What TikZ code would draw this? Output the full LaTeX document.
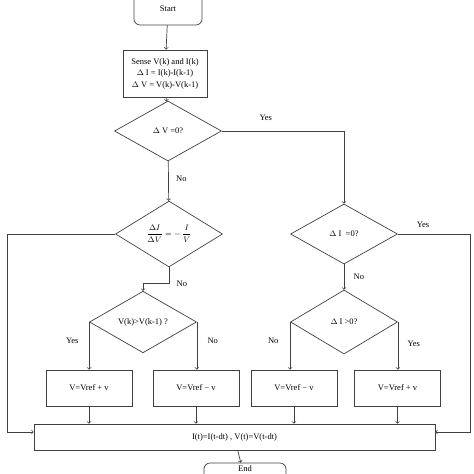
\documentclass[tikz,border=0pt]{standalone}
\usepackage{fontspec}
\setmainfont{Liberation Serif}
\usetikzlibrary{arrows,shapes.geometric,positioning,calc}

\begin{document}
\begin{tikzpicture}[x=1pt,y=-1pt,line width=0.7pt,
  every node/.style={font=\fontsize{8.5}{11.5}\selectfont},
  block/.style={draw=black!75,rectangle,minimum width=86pt,minimum height=36pt,inner sep=1pt,align=center},
  term/.style={block,rounded corners=6pt,minimum width=68pt,minimum height=32pt},
  decide/.style={draw=black!75,diamond,minimum width=107pt,minimum height=60pt,inner sep=1pt,align=center},
  link/.style={draw=black!75,->,>=to}]
  \useasboundingbox (0,0) rectangle (474,474);
  \clip (0,0) rectangle (474,474);

  % nodes
  \node[term] (start) at (168,9) {Start};
  \node[block,minimum width=84pt,minimum height=47pt] (sense) at (165,73.5)
    {Sense V(k) and I(k)\\ $\Delta$ I = I(k)-I(k-1)\\ $\Delta$ V = V(k)-V(k-1)};
  \node[decide] (dv)   at (168,131) {$\Delta$ V =0?};
  \node[decide] (didv) at (169,234) {$\displaystyle\frac{\Delta I}{\Delta V}=-\,\frac{I}{V}$};
  \node[decide] (di)   at (344,234) {$\Delta$ I\enspace =0?};
  \node[decide] (vk)   at (143,322) {V(k)>V(k-1) ?};
  \node[decide,minimum height=64pt] (dip) at (344,322) {$\Delta$ I >0?};

  \node[block] (inc1) at (89,388)    {V=Vref + v};
  \node[block] (dec1) at (196,388)   {V=Vref − v};
  \node[block] (dec2) at (294,388)   {V=Vref − v};
  \node[block] (inc2) at (397.5,388) {V=Vref + v};
  \node[block,minimum width=401pt,minimum height=26pt] (upd) at (234.5,437)
    {I(t)=I(t-dt) , V(t)=V(t-dt)};
  \node[term,minimum width=82pt,minimum height=0pt,inner sep=2pt,text height=6pt,text depth=24pt]
    (stop) at (245,480) {End};

  % connectors
  \path[link] (start) -- (sense);
  \path[link] (sense) -- (dv);
  \path[link] (dv.east) -| node[pos=0.18,above=7pt] {Yes} (di.north);
  \path[link] (dv) -- node[pos=0.45,right=4pt] {No} (didv);
  \path[link] (didv.south) -- ++(0,16) node[right=4pt] {No} -| (vk.north);
  \path[link] (didv.west) -- ++(-108,0) |- ([yshift=5pt]upd.west);
  \path[link] (vk.west) -- node[pos=0.4,left=7pt] {Yes} (vk.west |- inc1.north);
  \path[link] (vk.east) -- node[pos=0.4,right=7pt] {No} (vk.east |- dec1.north);
  \path[link] (di.east) -- node[pos=0.35,above=3pt] {Yes} ++(72,0) |- ([yshift=5pt]upd.east);
  \path[link] (di) -- node[pos=0.5,right=6pt] {No} (dip);
  \path[link] (dip.west) -- node[pos=0.4,left=8pt] {No} (dip.west |- dec2.north);
  \path[link] (dip.east) -- node[pos=0.45,right=6pt] {Yes} (dip.east |- inc2.north);
  \foreach \b in {inc1,dec1,dec2,inc2}
    \path[link] (\b.south) -- (\b.south |- upd.north);
  \path[link] (upd) -- (stop);
\end{tikzpicture}
\end{document}
